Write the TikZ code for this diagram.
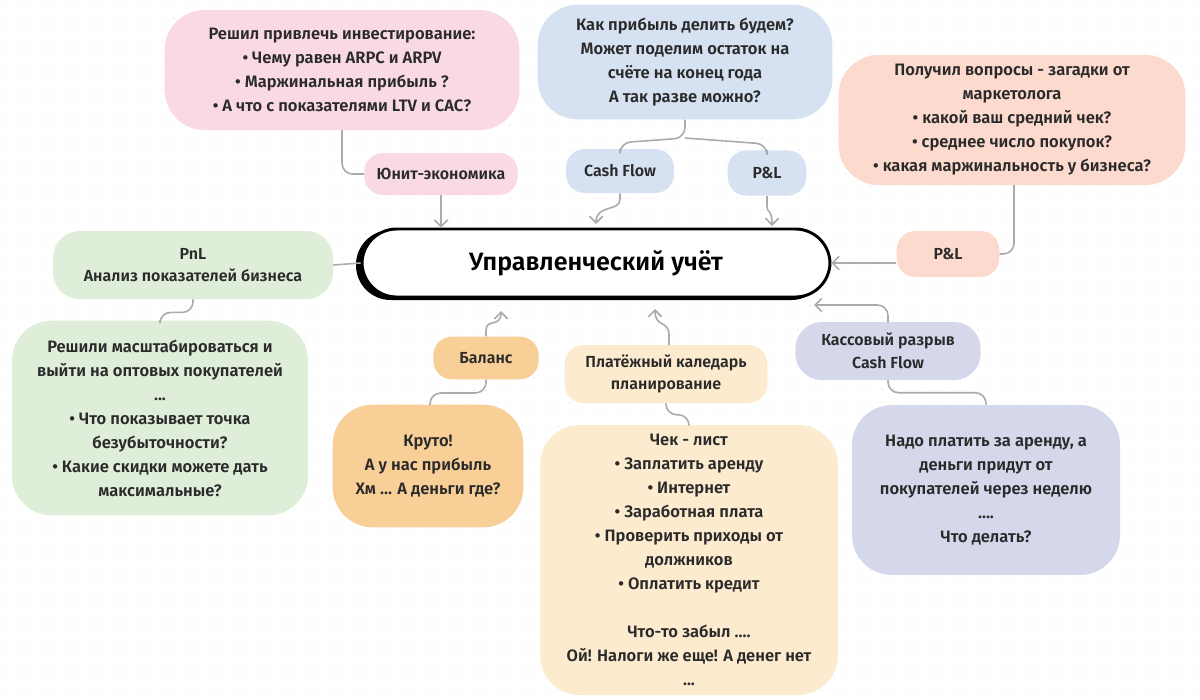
\documentclass[tikz,border=0pt]{standalone}
\usepackage{fontspec}
\setmainfont{Fira Sans}[BoldFont={Fira Sans SemiBold}]
\usetikzlibrary{arrows.meta}
\definecolor{pinkbg}{HTML}{F9D9E5}
\definecolor{bluebg}{HTML}{D6E2F1}
\definecolor{salmonbg}{HTML}{FCDACD}
\definecolor{greenbg}{HTML}{DFEED8}
\definecolor{orangebg}{HTML}{F9CF98}
\definecolor{creambg}{HTML}{FDEBCF}
\definecolor{lavbg}{HTML}{D5D8EB}
\definecolor{linkgray}{HTML}{ABABAB}
\definecolor{textc}{HTML}{2A2A2A}
\tikzset{
  tag/.style={rounded corners=14pt, align=center, inner sep=0pt, text=textc,
    font=\fontsize{12}{17}\selectfont\bfseries},
  bubble/.style={tag, rounded corners=30pt, font=\fontsize{12.4}{18}\selectfont\bfseries},
  link/.style={draw=linkgray, line width=1.2pt, rounded corners=8pt},
  arrowlink/.style={link, -{Straight Barb[length=5pt,width=10pt]}},
  curvelink/.style={draw=linkgray, line width=1.2pt, -{Straight Barb[length=5pt,width=10pt]}}
}
\begin{document}
\begin{tikzpicture}[x=0.75pt,y=-0.75pt]
\useasboundingbox (0,0) rectangle (1200,700);
\fill[white] (0,0) rectangle (1200,700);
\foreach \i in {0,...,99}
  \foreach \j in {0,...,58}
    \fill[black!18] (6+12*\i,6+12*\j) circle (0.45pt);
% main
\fill[black, rounded corners=26pt] (356,230) rectangle (826,300);
\node[draw=black, line width=2.2pt, fill=white, rounded corners=26pt, minimum width=351pt, minimum height=51pt,
  font=\fontsize{18.8}{22}\selectfont\bfseries] (main) at (596,263) {Управленческий учёт};
% top left
\node[bubble, fill=pinkbg, minimum width=266pt, minimum height=90pt] (invest) at (342,70)
  {Решил привлечь инвестирование:\\ • Чему равен ARPC и ARPV\\ • Маржинальная прибыль ?\\ • А что с показателями LTV и CAC?};
\node[tag, fill=pinkbg, minimum width=115pt, minimum height=31.5pt] (unit) at (441,174) {Юнит-экономика};
% top middle
\node[bubble, fill=bluebg, minimum width=221pt, minimum height=86pt] (profit) at (685,62)
  {Как прибыль делить будем?\\ Может поделим остаток на\\ счёте на конец года\\ А так разве можно?};
\node[tag, fill=bluebg, minimum width=81pt, minimum height=33pt] (cashtop) at (620,171) {Cash Flow};
\node[tag, fill=bluebg, minimum width=59pt, minimum height=34pt] (pltop) at (767,173) {P\&L};
% top right
\node[bubble, fill=salmonbg, minimum width=260pt, minimum height=97.5pt] (market) at (1012,120)
  {Получил вопросы - загадки от\\ маркетолога\\ • какой ваш средний чек?\\ • среднее число покупок?\\ • какая маржинальность у бизнеса?};
\node[tag, fill=salmonbg, minimum width=77pt, minimum height=34.5pt] (plright) at (948,254) {P\&L};
% left
\node[tag, fill=greenbg, rounded corners=20pt, minimum width=210pt, minimum height=51pt] (pnl) at (193,265)
  {PnL\\ Анализ показателей бизнеса};
\node[bubble, fill=greenbg, minimum width=222pt, minimum height=146pt] (scale) at (160,418)
  {Решили масштабироваться и\\ выйти на оптовых покупателей\\ ...\\ • Что показывает точка\\ безубыточности?\\ • Какие скидки можете дать\\ максимальные?};
% bottom left
\node[tag, fill=orangebg, minimum width=79pt, minimum height=32pt] (balance) at (486,358) {Баланс};
\node[bubble, fill=orangebg, minimum width=143pt, minimum height=92pt] (cool) at (428,466)
  {Круто!\\ А у нас прибыль\\ Хм ... А деньги где?};
% bottom middle
\node[tag, fill=creambg, minimum width=152pt, minimum height=43.5pt] (calendar) at (666,374)
  {Платёжный каледарь\\ планирование};
\node[bubble, fill=creambg, minimum width=223.5pt, minimum height=202.5pt] (check) at (689,560)
  {Чек - лист\\ • Заплатить аренду\\ • Интернет\\ • Заработная плата\\ • Проверить приходы от\\ должников\\ • Оплатить кредит\\[18pt] Что-то забыл ....\\ Ой! Налоги же еще! А денег нет\\ ...};
% bottom right
\node[tag, fill=lavbg, rounded corners=20pt, minimum width=139pt, minimum height=43.5pt] (gap) at (888,351)
  {Кассовый разрыв\\ Cash Flow};
\node[bubble, fill=lavbg, minimum width=201pt, minimum height=127.5pt] (rent) at (986,490)
  {Надо платить за аренду, а\\ деньги придут от\\ покупателей через неделю\\ ....\\ Что делать?};
% connectors
\draw[link] (342,130) |- (unit.west);
\draw[arrowlink] (unit.south) -- (unit.south |- main.north);
\draw[link] (cashtop.north) -- ++(0,-6) -- (685,138) -- (profit.south);
\draw[link] (pltop.north) -- ++(0,-6) -- (685,138);
\draw[curvelink] (cashtop.south) -- ++(0,6) .. controls (620,212) and (596,204) .. (596,224);
\draw[curvelink] (pltop.south) -- ++(0,10) .. controls (767,214) and (772,208) .. (772,226);
\draw[link] (1014,185) |- (plright.east);
\draw[arrowlink] (plright.west |- main.east) -- (main.east);
\draw[link] (pnl.east) -- (main.west);
\draw[link] (scale.north) -- ++(0,-8) -| (pnl.south);
\draw[curvelink] (balance.north) -- ++(0,-6) .. controls (486,318) and (501,328) .. (501,311);
\draw[link] (430,405) -- ++(0,-12) -| (balance.south);
\draw[curvelink] (669,345) -- ++(0,-10) .. controls (669,320) and (655,328) .. (655,309);
\draw[link] (check.north) -- ++(0,-10) -| (calendar.south);
\draw[arrowlink] (888,322) |- (814,305);
\draw[link] (rent.north) -- ++(0,-12) -| (gap.south);
\end{tikzpicture}
\end{document}
